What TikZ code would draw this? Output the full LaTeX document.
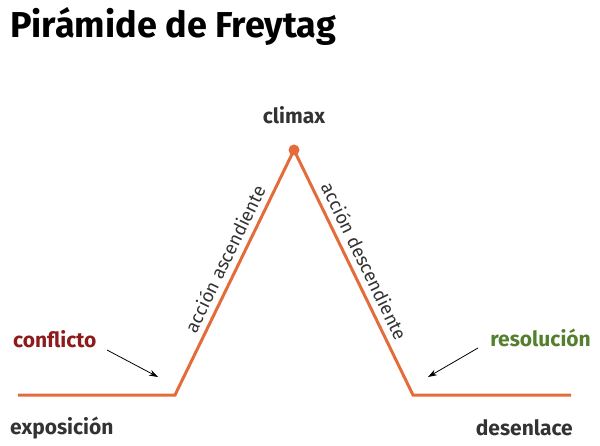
\documentclass[tikz,border=0pt]{standalone}
\usepackage{fontspec}
\setmainfont{Fira Sans}
\usetikzlibrary{arrows.meta}

\tikzstyle{stage-label}=[inner sep=0pt, font={\fontsize{21}{24}\selectfont\bfseries}, text={GraphGray}]
\tikzstyle{slope-label}=[sloped, above, inner sep=6pt, font={\fontsize{18.5}{21}\selectfont}, text={GraphGray}]
\tikzstyle{plot-line}=[draw={GraphOrange}, line width=3pt, line join=miter]
\tikzstyle{hint-arrow}=[-{Stealth[length=9pt, width=6pt]}, line width=0.8pt, black]
\definecolor{GraphOrange}{HTML}{e46c3a}
\definecolor{GraphRed}{HTML}{8e1b1b}
\definecolor{GraphGreen}{HTML}{547f2e}
\definecolor{GraphGray}{HTML}{333333}

\begin{document}
\begin{tikzpicture}[x=1pt, y=1pt]
      \useasboundingbox (0,0) rectangle (600,445);
      \node (title) at (10,407) [anchor=base west, inner sep=0pt, font={\fontsize{36}{40}\selectfont\bfseries}] {Pirámide de Freytag};

      \coordinate (plot-start) at (18,50);
      \coordinate (plot-rise) at (175,50);
      \coordinate (plot-peak) at (294,295);
      \coordinate (plot-fall) at (413,50);
      \coordinate (plot-end) at (571,50);

      \draw [plot-line] (plot-start) -- (plot-rise)
        -- node [slope-label, pos=0.53] {acción ascendiente} (plot-peak)
        -- node [slope-label, pos=0.48] {acción descendiente} (plot-fall)
        -- (plot-end);
      \fill [GraphOrange] (plot-peak) circle (5.5pt);

      \node (label-climax) at (294,330) [stage-label] {climax};
      \node (label-conflicto) at (13,106) [stage-label, anchor=west, text={GraphRed}] {conflicto};
      \node (label-resolucion) at (591,107) [stage-label, anchor=east, text={GraphGreen}] {resolución};
      \node (label-exposicion) at (10,17) [stage-label, anchor=west] {exposición};
      \node (label-desenlace) at (573,17) [stage-label, anchor=east] {desenlace};

      \coordinate (tail-conflicto) at (107,95);
      \coordinate (tip-conflicto) at (158,68);
      \coordinate (tail-resolucion) at (478,97);
      \coordinate (tip-resolucion) at (428,68);
      \draw [hint-arrow] (tail-conflicto) -- (tip-conflicto);
      \draw [hint-arrow] (tail-resolucion) -- (tip-resolucion);
    \end{tikzpicture}
\end{document}
